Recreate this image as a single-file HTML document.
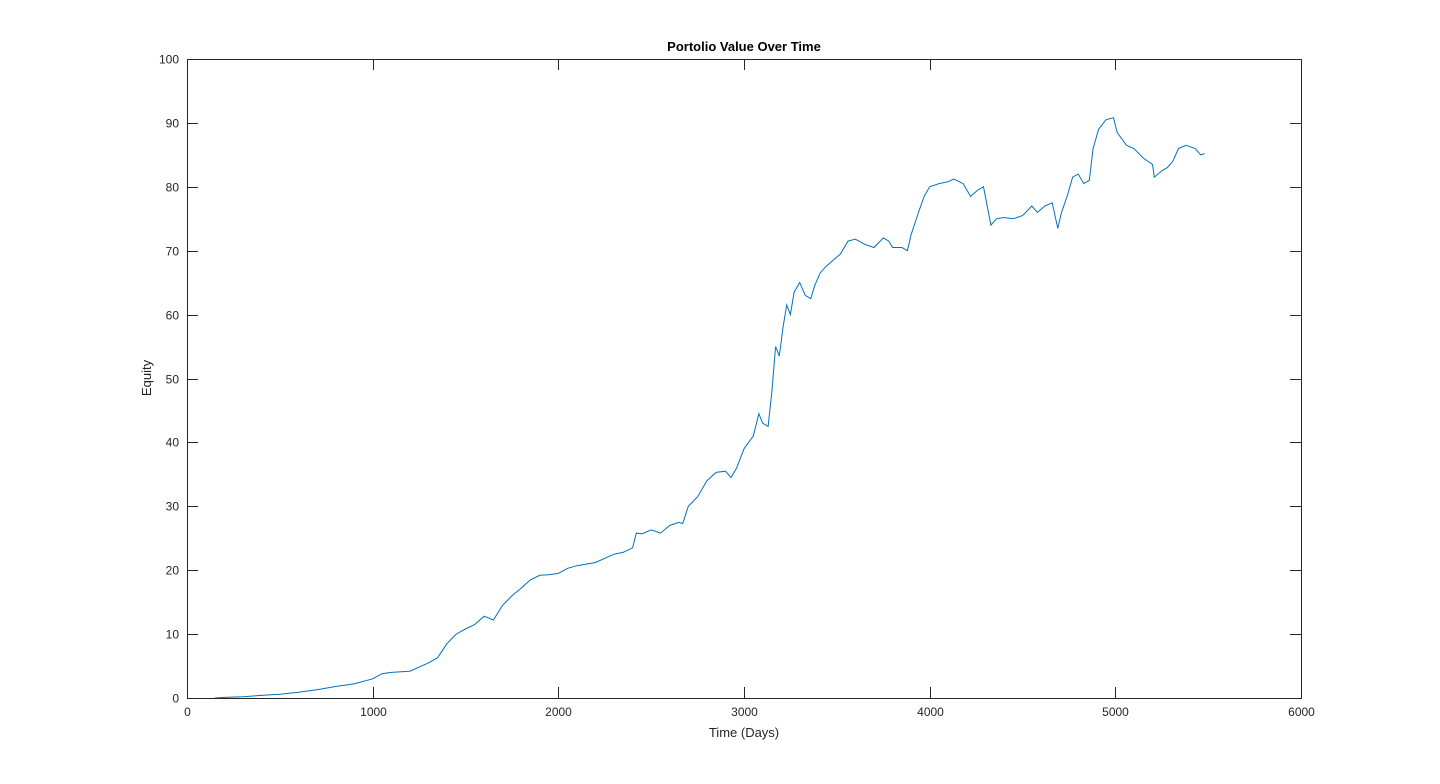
<!DOCTYPE html>
<html><head><meta charset="utf-8"><style>
html,body{margin:0;padding:0;background:#fff;}
svg{display:block;font-family:"Liberation Sans",Arial,sans-serif;}
</style></head><body>
<svg id="chart" width="1440" height="784"></svg>
<script>
const days=[150,200,300,400,500,600,700,800,900,1000,1050,1100,1200,1300,1350,1400,1450,1500,1550,1600,1650,1700,1750,1800,1850,1900,1950,2000,2050,2100,2200,2300,2350,2400,2420,2450,2500,2550,2600,2650,2670,2700,2750,2800,2850,2900,2930,2960,3000,3050,3080,3100,3130,3150,3170,3190,3210,3230,3250,3270,3300,3330,3360,3380,3410,3440,3480,3520,3560,3600,3650,3700,3750,3780,3800,3850,3880,3900,3940,3970,4000,4050,4100,4130,4180,4220,4260,4290,4310,4330,4360,4400,4450,4500,4550,4580,4620,4660,4690,4710,4740,4770,4800,4830,4860,4880,4910,4950,4990,5010,5060,5100,5150,5200,5210,5250,5280,5310,5340,5380,5430,5460,5480];
const equity=[0,0.1,0.2,0.4,0.6,0.9,1.3,1.8,2.2,3.0,3.8,4.0,4.2,5.5,6.3,8.5,10,10.8,11.5,12.8,12.2,14.5,16,17.2,18.5,19.2,19.3,19.5,20.3,20.7,21.2,22.5,22.8,23.5,25.8,25.7,26.3,25.8,27,27.5,27.3,30,31.5,34,35.3,35.5,34.5,36,39,41,44.5,43,42.5,48,55,53.5,58,61.5,60,63.5,65,63,62.5,64.5,66.5,67.5,68.5,69.5,71.5,71.8,71,70.5,72,71.5,70.5,70.5,70,72.5,76,78.5,80,80.5,80.8,81.2,80.5,78.5,79.5,80,77,74,75,75.2,75,75.5,77,76,77,77.5,73.5,76,78.5,81.5,82,80.5,81,86,89,90.5,90.8,88.5,86.5,86,84.5,83.5,81.5,82.5,83,84,86,86.5,86,85,85.2];
const xTicks=[0,1000,2000,3000,4000,5000,6000];
const yTicks=[0,10,20,30,40,50,60,70,80,90,100];
const L=187,R=1301,T=59,B=698;
const xs=d=>L+(d/6000)*(R-L);
const ys=v=>B-(v/100)*(B-T);
const svg=document.getElementById('chart');
const NS='http://www.w3.org/2000/svg';
function mk(tag,attrs,parent){const e=document.createElementNS(NS,tag);for(const k in attrs)e.setAttribute(k,attrs[k]);(parent||svg).appendChild(e);return e;}
const line=mk('polyline',{points:days.map((d,i)=>xs(d).toFixed(1)+','+ys(equity[i]).toFixed(1)).join(' '),fill:'none',stroke:'#0072BD','stroke-width':1});


const box=mk('rect',{x:L+0.5,y:T+0.5,width:R-L,height:B-T,fill:'none',stroke:'#262626','stroke-width':1});


xTicks.forEach(t=>{const x=Math.round(xs(t))+0.5;
 mk('line',{x1:x,x2:x,y1:B,y2:B-11,stroke:'#262626'});
 mk('line',{x1:x,x2:x,y1:T,y2:T+11,stroke:'#262626'});
 const tx=mk('text',{x:x,y:B+18,'text-anchor':'middle','font-size':12,fill:'#262626'});tx.textContent=t;
 
 
});
yTicks.forEach(t=>{const y=Math.round(ys(t))+0.5;
 mk('line',{x1:L,x2:L+11,y1:y,y2:y,stroke:'#262626'});
 mk('line',{x1:R,x2:R-11,y1:y,y2:y,stroke:'#262626'});
 const tx=mk('text',{x:L-8,y:y+4,'text-anchor':'end','font-size':12,fill:'#262626'});tx.textContent=t;
 
 
});
const title=mk('text',{x:(L+R)/2,y:51,'text-anchor':'middle','font-size':13,'font-weight':'bold',fill:'#000'});title.textContent='Portolio Value Over Time';


const xl=mk('text',{x:(L+R)/2,y:737,'text-anchor':'middle','font-size':13,fill:'#262626'});xl.textContent='Time (Days)';


const yl=mk('text',{x:0,y:0,transform:'translate(151,378) rotate(-90)','text-anchor':'middle','font-size':13,fill:'#262626'});yl.textContent='Equity';


</script>
</body></html>
